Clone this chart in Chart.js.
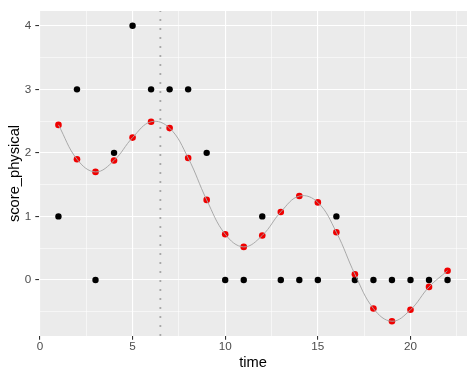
<!DOCTYPE html>
<html>
<head>
<meta charset="utf-8">
<script src="https://cdn.jsdelivr.net/npm/chart.js@4"></script>
<style>
html,body{margin:0;padding:0;background:#ffffff;}
canvas{display:block;}
</style>
</head>
<body>
<canvas id="c" width="474" height="379"></canvas>
<script>
const time = [1,2,3,4,5,6,7,8,9,10,11,12,13,14,15,16,17,18,19,20,21,22];
const observed = [1,3,0,2,4,3,3,3,2,0,0,1,0,0,0,1,0,0,0,0,0,0];
const fitted = [2.44,1.90,1.70,1.88,2.24,2.49,2.39,1.92,1.26,0.72,0.52,0.70,1.07,1.32,1.22,0.75,0.09,-0.45,-0.65,-0.47,-0.11,0.145];
const changePoint = 6.5;
const xTicks = [0,2.5,5,7.5,10,12.5,15,17.5,20,22.5];
const yTicks = [-0.5,0,0.5,1,1.5,2,2.5,3,3.5,4];
const xRange = [-0.05, 23.05];
const yRange = [-0.8825, 4.2325];

const panelBg = {
  id: 'panelBg',
  beforeDraw(chart) {
    const {ctx, chartArea: a} = chart;
    ctx.save();
    ctx.fillStyle = '#EBEBEB';
    ctx.fillRect(a.left, a.top, a.right - a.left, a.bottom - a.top);
    ctx.restore();
  }
};

const isMajorX = v => v % 5 === 0;
const isMajorY = v => Number.isInteger(v);

const tickFont = {family: "'Liberation Sans', Arial, sans-serif", size: 11.7};
const titleFont = {family: "'Liberation Sans', Arial, sans-serif", size: 14.7};

new Chart(document.getElementById('c'), {
  type: 'scatter',
  data: {
    datasets: [
      {
        type: 'line',
        data: time.map((t, i) => ({x: t, y: fitted[i]})),
        borderColor: 'rgba(165,165,165,0.95)',
        borderWidth: 1,
        pointRadius: 0,
        tension: 0.4,
        fill: false,
        order: 0
      },
      {
        data: time.map((t, i) => ({x: t, y: fitted[i]})),
        backgroundColor: '#F00000',
        borderWidth: 0,
        pointRadius: 3.3,
        order: 1
      },
      {
        data: time.map((t, i) => ({x: t, y: observed[i]})),
        backgroundColor: '#000000',
        borderWidth: 0,
        pointRadius: 3.2,
        order: 2
      },
      {
        type: 'line',
        data: [{x: changePoint, y: yRange[0]}, {x: changePoint, y: yRange[1]}],
        borderColor: '#A8A8A8',
        borderWidth: 1.8,
        borderDash: [2, 7],
        pointRadius: 0,
        fill: false,
        order: 4
      }
    ]
  },
  options: {
    responsive: false,
    devicePixelRatio: 1,
    animation: false,
    events: [],
    layout: {padding: {top: 7, right: 7, left: 0, bottom: 0}},
    plugins: {legend: {display: false}, tooltip: {enabled: false}},
    scales: {
      x: {
        type: 'linear',
        min: xRange[0],
        max: xRange[1],
        afterBuildTicks: s => { s.ticks = xTicks.map(v => ({value: v})); },
        afterFit: s => { s.height = 43; },
        border: {display: false},
        grid: {
          color: '#FFFFFF',
          lineWidth: c => isMajorX(c.tick.value) ? 1.1 : 0.55,
          tickColor: c => isMajorX(c.tick.value) ? '#333333' : 'rgba(0,0,0,0)',
          tickWidth: 1.1,
          tickLength: 3.7,
          drawTicks: true
        },
        ticks: {
          autoSkip: false,
          maxRotation: 0,
          padding: 0.5,
          color: '#4D4D4D',
          font: tickFont,
          callback: v => isMajorX(v) ? String(v) : ''
        },
        title: {display: true, text: 'time', color: '#000000', font: titleFont, padding: {top: 0, bottom: 7}}
      },
      y: {
        type: 'linear',
        min: yRange[0],
        max: yRange[1],
        afterBuildTicks: s => { s.ticks = yTicks.map(v => ({value: v})); },
        afterFit: s => { s.width = 39; },
        border: {display: false},
        grid: {
          color: '#FFFFFF',
          lineWidth: c => isMajorY(c.tick.value) ? 1.1 : 0.55,
          tickColor: c => isMajorY(c.tick.value) ? '#333333' : 'rgba(0,0,0,0)',
          tickWidth: 1.1,
          tickLength: 3.7,
          drawTicks: true
        },
        ticks: {
          autoSkip: false,
          padding: 4,
          color: '#4D4D4D',
          font: tickFont,
          callback: v => isMajorY(v) ? String(v) : ''
        },
        title: {display: true, text: 'score_physical', color: '#000000', font: titleFont, padding: {top: 6, bottom: 0}}
      }
    }
  },
  plugins: [panelBg]
});
</script>
</body>
</html>
